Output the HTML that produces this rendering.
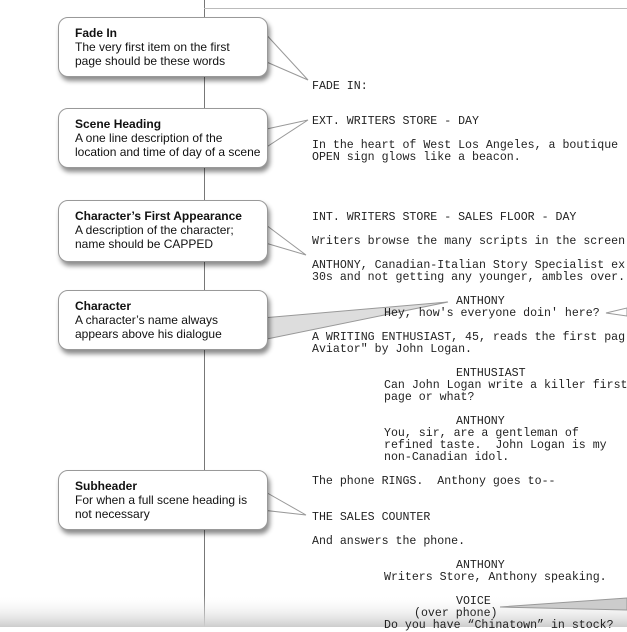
<!DOCTYPE html>
<html><head><meta charset="utf-8"><style>
body{margin:0;width:627px;height:627px;overflow:hidden;background:#fff;position:relative;font-family:"Liberation Sans",sans-serif}
.m{position:absolute;font-family:"Liberation Mono",monospace;font-size:11.6px;color:#222;white-space:pre;line-height:12px}
.b{position:absolute;left:58px;width:210px;background:#fff;border:1px solid #999;border-radius:10px;box-shadow:2px 4px 5px rgba(0,0,0,.45);box-sizing:border-box;padding:8px 0 0 16px;font-size:12px;line-height:14px;color:#111}
.b b{display:block}
</style></head><body>
<div style="position:absolute;left:204px;top:0;width:1px;height:627px;background:#777"></div>
<div style="position:absolute;left:204px;top:8px;width:423px;height:1px;background:#bbb"></div>
<svg width="627" height="627" style="position:absolute;left:0;top:0">
<defs><linearGradient id="g" x1="0" y1="0" x2="0" y2="1"><stop offset="0" stop-color="#fff" stop-opacity="0"/><stop offset="1" stop-color="#ccc"/></linearGradient></defs>
<rect x="0" y="595" width="627" height="32" fill="url(#g)"/>
<g fill="#fff" stroke="#999" stroke-width="1">
<polygon points="262,30 308,80 262,60"/>
<polygon points="262,130 308,120 262,150"/>
<polygon points="262,222 306,255 262,242"/>
<polygon points="262,318 448,302 262,340" fill="#ddd"/>
<polygon points="262,490 306,515 262,510"/>
<polygon points="606,313 627,308 627,316"/>
<polygon points="500,607 627,598 627,610" fill="#ccc"/>
</g>
</svg>
<div class="b" style="top:17px;height:60px"><b>Fade In</b>The very first item on the first<br>page should be these words</div>
<div class="b" style="top:108px;height:60px"><b>Scene Heading</b>A one line description of the<br>location and time of day of a scene</div>
<div class="b" style="top:200px;height:62px"><b>Character’s First Appearance</b>A description of the character;<br>name should be CAPPED</div>
<div class="b" style="top:290px;height:60px"><b>Character</b>A character’s name always<br>appears above his dialogue</div>
<div class="b" style="top:470px;height:60px"><b>Subheader</b>For when a full scene heading is<br>not necessary</div>
<div class="m" style="left:312px;top:81px">FADE IN:</div>
<div class="m" style="left:312px;top:116px">EXT. WRITERS STORE - DAY</div>
<div class="m" style="left:312px;top:140px">In the heart of West Los Angeles, a boutique
OPEN sign glows like a beacon.</div>
<div class="m" style="left:312px;top:212px">INT. WRITERS STORE - SALES FLOOR - DAY</div>
<div class="m" style="left:312px;top:236px">Writers browse the many scripts in the screen</div>
<div class="m" style="left:312px;top:260px">ANTHONY, Canadian-Italian Story Specialist ex
30s and not getting any younger, ambles over.</div>
<div class="m" style="left:456px;top:296px">ANTHONY</div>
<div class="m" style="left:384px;top:308px">Hey, how's everyone doin' here?</div>
<div class="m" style="left:312px;top:332px">A WRITING ENTHUSIAST, 45, reads the first pag
Aviator" by John Logan.</div>
<div class="m" style="left:456px;top:368px">ENTHUSIAST</div>
<div class="m" style="left:384px;top:380px">Can John Logan write a killer first
page or what?</div>
<div class="m" style="left:456px;top:416px">ANTHONY</div>
<div class="m" style="left:384px;top:428px">You, sir, are a gentleman of
refined taste.  John Logan is my
non-Canadian idol.</div>
<div class="m" style="left:312px;top:476px">The phone RINGS.  Anthony goes to--</div>
<div class="m" style="left:312px;top:512px">THE SALES COUNTER</div>
<div class="m" style="left:312px;top:536px">And answers the phone.</div>
<div class="m" style="left:456px;top:560px">ANTHONY</div>
<div class="m" style="left:384px;top:572px">Writers Store, Anthony speaking.</div>
<div class="m" style="left:456px;top:596px">VOICE</div>
<div class="m" style="left:414px;top:608px">(over phone)</div>
<div class="m" style="left:384px;top:620px">Do you have “Chinatown” in stock?</div>
</body></html>
